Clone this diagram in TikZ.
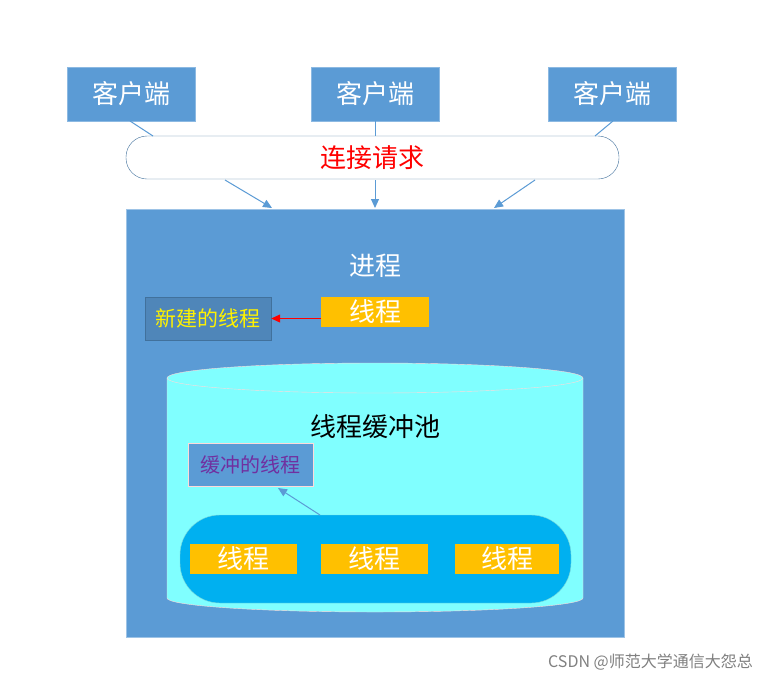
\documentclass[tikz,border=0pt]{standalone}
\usepackage{fontspec}
\setmainfont{Noto Sans CJK SC}
\usetikzlibrary{arrows.meta,shapes.geometric}
\definecolor{boxblue}{HTML}{5B9BD5}
\definecolor{darkblue}{HTML}{4F86B9}
\definecolor{edgeblue}{HTML}{41719C}
\definecolor{threadorange}{HTML}{FFC000}
\definecolor{poolcyan}{HTML}{80FFFF}
\definecolor{queueblue}{HTML}{00B0F0}
\definecolor{bufpurple}{HTML}{7030A0}
\tikzset{
  client/.style={fill=boxblue, draw=boxblue!70!white, text=white, font=\fontsize{26}{30}\selectfont, minimum width=128pt, minimum height=54pt, inner sep=0pt},
  thread/.style={fill=threadorange, text=white, font=\fontsize{26}{30}\selectfont, minimum height=30pt, inner sep=0pt},
  link/.style={draw=boxblue, line width=1pt},
  flow/.style={link, -{Triangle[length=9pt,width=8pt]}}
}
\begin{document}
\begin{tikzpicture}[x=1pt,y=-1pt]
  \useasboundingbox[fill=white] (0,0) rectangle (768,681);

  % clients
  \node[client] (c1) at (131,94) {客户端};
  \node[client] (c2) at (375,94) {客户端};
  \node[client] (c3) at (612.5,94) {客户端};

  % connection request
  \node[draw=edgeblue, fill=white, rounded corners=21pt, minimum width=493pt, minimum height=43pt, text=red, font=\fontsize{26}{30}\selectfont] (req) at (372.5,157.5) {连接请求};
  \coordinate (r1) at (153,136); \coordinate (r2) at (375,136); \coordinate (r3) at (595,136);
  \draw[link] (130,121) -- (r1);
  \draw[link] (c2.south) -- (r2);
  \draw[link] (613,121) -- (r3);

  % process
  \node[fill=boxblue, draw=boxblue!60!white, minimum width=498pt, minimum height=428pt, inner sep=0pt] (proc) at (375,423) {};
  \node[text=white, font=\fontsize{26}{30}\selectfont] (ptitle) at (375,266) {进程};
  \draw[flow] (225,180) -- (272,208);
  \draw[flow] (375,180) -- (375,208);
  \draw[flow] (535,180) -- (494,208);

  \node[thread, minimum width=108pt] (t0) at (375,312) {线程};
  \node[fill=darkblue, draw=edgeblue, text=yellow, font=\fontsize{21}{25}\selectfont, minimum width=126pt, minimum height=43pt, inner sep=0pt] (newt) at (208,318.5) {新建的线程};
  \coordinate (tout) at (321,318.5);
  \draw[red, line width=1pt, -{Triangle[length=9pt,width=8pt]}] (tout) -- (newt.east);

  % buffer pool cylinder
  \fill[poolcyan, draw=pink!60!white] (167,378) -- (167,598) arc[start angle=180, end angle=0, x radius=208, y radius=14] -- (583,378) arc[start angle=0, end angle=-180, x radius=208, y radius=15] -- cycle;
  \draw[pink!60!white] (167,378) arc[start angle=180, end angle=0, x radius=208, y radius=15];
  \node[font=\fontsize{26}{30}\selectfont] (pool) at (375,427) {线程缓冲池};

  \node[fill=boxblue, draw=pink!60!white, text=bufpurple, font=\fontsize{20}{24}\selectfont, minimum width=125pt, minimum height=43pt, inner sep=0pt] (buft) at (250.5,464.5) {缓冲的线程};

  \node[fill=queueblue, draw=poolcyan!70!gray, rounded corners=40pt, minimum width=391pt, minimum height=88pt] (queue) at (375.5,559) {};
  \coordinate (qtop) at (320,515);
  \coordinate (bufin) at (278,488);
  \draw[flow] (qtop) -- (bufin);

  \node[thread, minimum width=107pt] (t1) at (243.5,558.5) {线程};
  \node[thread, minimum width=107pt] (t2) at (374.5,558.5) {线程};
  \node[thread, minimum width=104pt] (t3) at (507,558.5) {线程};

  % watermark
  \node[text=gray, font=\fontsize{16}{19}\selectfont, anchor=east, inner sep=0pt] (mark) at (753,662) {CSDN @师范大学通信大怨总};
\end{tikzpicture}
\end{document}
